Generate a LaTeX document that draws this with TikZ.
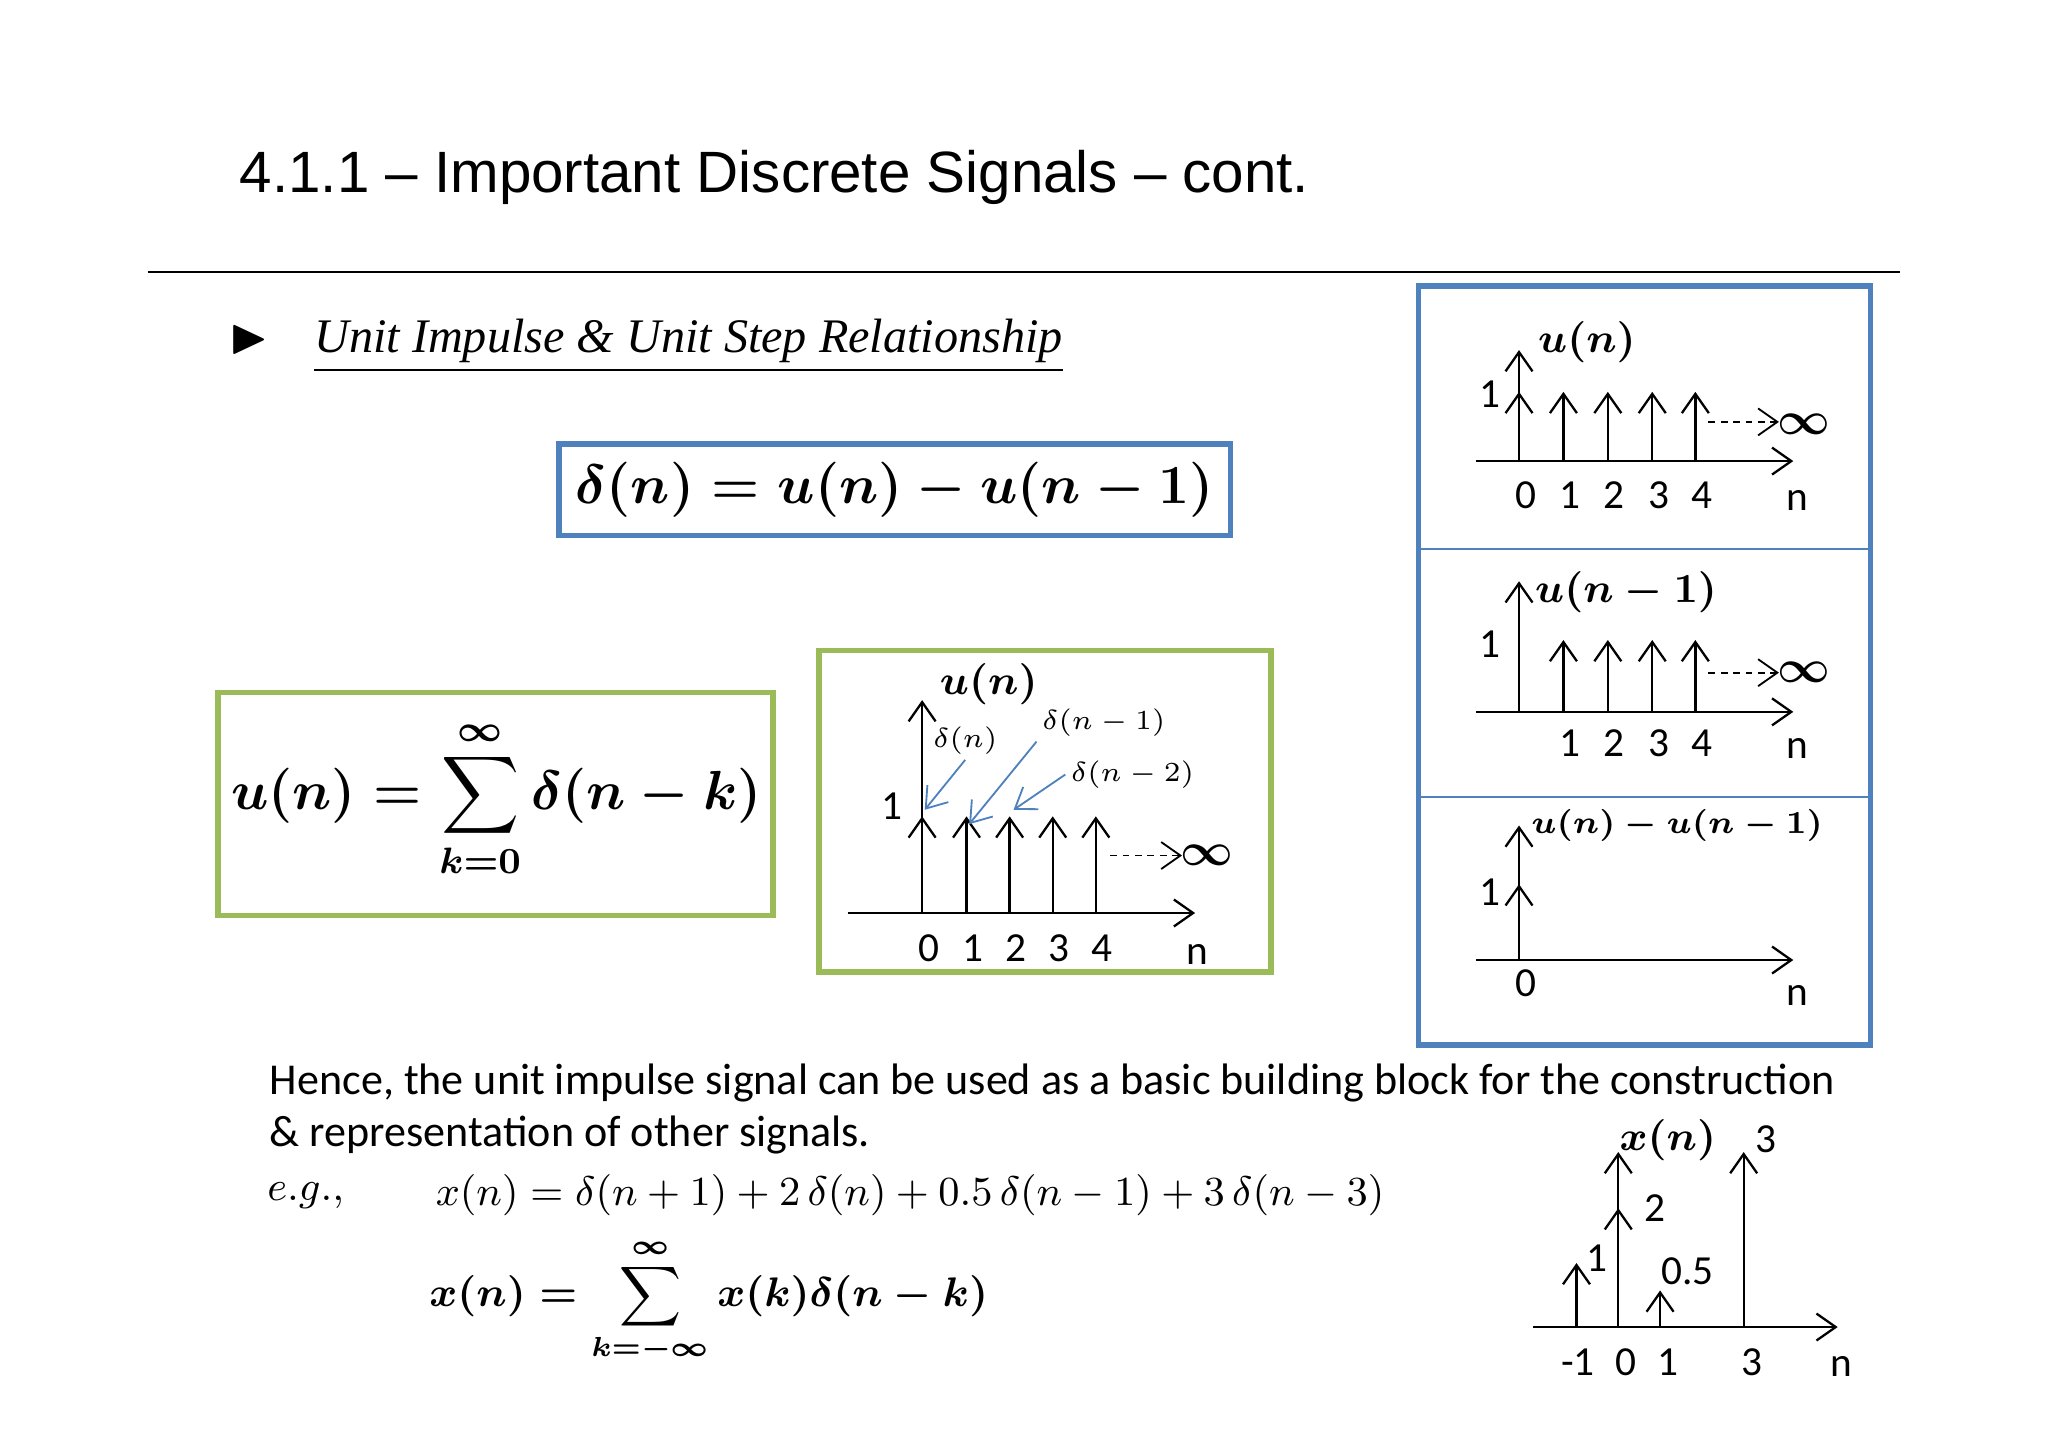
\documentclass[tikz,border=0pt]{standalone}
\usepackage{amsmath}
\usepackage{amssymb}
\usepackage{fontspec}
\setmainfont{Liberation Serif}
\newfontfamily\titlefont{Liberation Sans}
\newfontfamily\bodyfont{Carlito}
\usetikzlibrary{arrows.meta, positioning, calc}
\definecolor{boxblue}{RGB}{79,129,189}
\definecolor{boxgreen}{RGB}{155,187,89}

\begin{document}
\begin{tikzpicture}[x=0.1mm, y=-0.1mm,
		>={Straight Barb[angle=70:1.8mm]},
		stem/.style={draw,->,line width=0.5pt},
		axis/.style={draw,->,line width=0.5pt},
		dots/.style={draw,dash pattern=on 1.5pt off 1.2pt,->,line width=0.4pt},
		lbl/.style={font=\bodyfont\fontsize{9}{10}\selectfont, inner sep=1pt},
		sig/.style={font=\fontsize{9}{10}\selectfont, inner sep=1pt},
		pointer/.style={draw=boxblue,->,line width=0.4pt},
		frame/.style={line width=1.2pt, inner sep=0}
	]
	\useasboundingbox (0,0) rectangle (1568,1109);
	% title
	\node [anchor=base west, inner sep=0, font=\titlefont\fontsize{12.7}{15}\selectfont] (title) at (183,147) {4.1.1 \textendash{} Important Discrete Signals \textendash{} cont.};
	\coordinate (rl) at (113,208);
	\coordinate (rr) at (1455,208);
	\draw [line width=0.5pt] (rl) -- (rr);
	% heading
	\node [anchor=base west, inner sep=0, font=\fontsize{11}{13}\selectfont] (bullet) at (175,270) {$\blacktriangleright$};
	\node [anchor=base west, inner sep=0, font=\itshape\fontsize{10.5}{13}\selectfont] (head) at (240,270) {\underline{Unit Impulse \& Unit Step Relationship}};
	% formula boxes
	\draw [boxblue, frame] (428,340) rectangle (942,410);
	\node [inner sep=0, font=\fontsize{12.4}{14}\selectfont] (rel) at (685,375) {$\boldsymbol{\delta(n) = u(n) - u(n-1)}$};
	\draw [boxgreen, frame] (167,530) rectangle (592,701);
	\node [inner sep=0, font=\fontsize{11.8}{14}\selectfont] (sum) at (380,612) {$\displaystyle\boldsymbol{u(n) = \sum_{k=0}^{\infty} \delta(n-k)}$};
	\draw [boxgreen, frame] (627,498) rectangle (973,744);
	\draw [boxblue, frame] (1086,219) rectangle (1432,800);
	\coordinate (d1l) at (1086,420);
	\coordinate (d1r) at (1432,420);
	\coordinate (d2l) at (1086,610);
	\coordinate (d2r) at (1432,610);
	\draw [boxblue, line width=0.4pt] (d1l) -- (d1r);
	\draw [boxblue, line width=0.4pt] (d2l) -- (d2r);

	% green plot
	\coordinate (ga0) at (649,699);
	\coordinate (ga1) at (915,699);
	\coordinate (gy) at (706,536);
	\draw [axis] (ga0) -- (ga1);
	\draw [axis] (706,699) -- (gy);
	\foreach \x/\t in {706/0,740/1,773/2,806/3,839/4}{
		\coordinate (g\t) at (\x,625);
		\draw [stem] (\x,699) -- (g\t);
		\node [lbl] at (\x+5,726) {\t};
	}
	\node [lbl] at (917,731) {n};
	\node [lbl] at (683,617) {1};
	\node [sig, font=\fontsize{9.5}{11}\selectfont] at (757,524) {$\boldsymbol{u(n)}$};
	\coordinate (gd0) at (850,655);
	\coordinate (gd1) at (905,655);
	\draw [dots] (gd0) -- (gd1);
	\node [sig, font=\fontsize{10}{11}\selectfont] at (924,655) {$\boldsymbol{\infty}$};
	\node [sig, font=\fontsize{6}{7}\selectfont] (dn) at (739,567) {$\delta(n)$};
	\node [sig, font=\fontsize{5.8}{7}\selectfont] (dn1) at (845,553) {$\delta(n-1)$};
	\node [sig, font=\fontsize{5.8}{7}\selectfont] (dn2) at (867,593) {$\delta(n-2)$};
	\coordinate (pn0) at (708,620);
	\coordinate (pn1) at (742,631);
	\coordinate (pn2) at (776,620);
	\draw [pointer] (dn.south) -- (pn0);
	\draw [pointer] (dn1.south west) -- (pn1);
	\draw [pointer] (dn2.west) -- (pn2);

	% right panel 1: u(n)
	\draw [axis] (1130,353) -- (1373,353);
	\draw [axis] (1163,353) -- (1163,268);
	\foreach \x/\t in {1163/0,1197/1,1231/2,1265/3,1298/4}{
		\draw [stem] (\x,353) -- (\x,300);
		\node [lbl] at (\x+5,379) {\t};
	}
	\node [lbl] at (1376,383) {n};
	\node [lbl] at (1141,302) {1};
	\node [sig] at (1215,262) {$\boldsymbol{u(n)}$};
	\draw [dots] (1308,323) -- (1362,323);
	\node [sig, font=\fontsize{10}{11}\selectfont] at (1381,325) {$\boldsymbol{\infty}$};

	% right panel 2: u(n-1)
	\draw [axis] (1130,545) -- (1373,545);
	\draw [axis] (1163,545) -- (1163,445);
	\foreach \x/\t in {1197/1,1231/2,1265/3,1298/4}{
		\draw [stem] (\x,545) -- (\x,490);
		\node [lbl] at (\x+5,569) {\t};
	}
	\node [lbl] at (1376,573) {n};
	\node [lbl] at (1141,493) {1};
	\node [sig] at (1245,453) {$\boldsymbol{u(n-1)}$};
	\draw [dots] (1308,515) -- (1362,515);
	\node [sig, font=\fontsize{10}{11}\selectfont] at (1381,515) {$\boldsymbol{\infty}$};

	% right panel 3: u(n)-u(n-1)
	\draw [axis] (1130,735) -- (1373,735);
	\draw [axis] (1163,735) -- (1163,632);
	\draw [stem] (1163,735) -- (1163,677);
	\node [lbl] at (1141,683) {1};
	\node [lbl] at (1168,753) {0};
	\node [lbl] at (1376,762) {n};
	\node [sig, font=\fontsize{7.2}{8}\selectfont] at (1284,632) {$\boldsymbol{u(n)-u(n-1)}$};

	% text
	\node [anchor=base west, inner sep=0, font=\bodyfont\fontsize{9.6}{11.4}\selectfont, align=left] (hence) at (206,878) {Hence, the unit impulse signal can be used as a basic building block for the construction\\ \& representation of other signals.};
	\node [anchor=west, inner sep=0, font=\fontsize{9.5}{12}\selectfont] (eg) at (204,915) {$e.g.,$};
	\node [anchor=west, inner sep=0, font=\fontsize{9.5}{12}\selectfont] (xsum) at (333,915) {$x(n) = \delta(n+1) + 2\,\delta(n) + 0.5\,\delta(n-1) + 3\,\delta(n-3)$};
	\node [anchor=west, inner sep=0, font=\fontsize{9.1}{12}\selectfont] (xgen) at (328,997) {$\displaystyle\boldsymbol{x(n) = \sum_{k=-\infty}^{\infty} x(k)\delta(n-k)}$};

	% bottom right plot
	\draw [axis] (1174,1016) -- (1407,1016);
	\draw [axis] (1239,1016) -- (1239,882);
	\draw [stem] (1239,1016) -- (1239,925);
	\draw [stem] (1207,1016) -- (1207,967);
	\draw [stem] (1271,1016) -- (1271,988);
	\draw [stem] (1335,1016) -- (1335,882);
	\node [lbl] at (1208,1043) {-1};
	\node [lbl] at (1245,1043) {0};
	\node [lbl] at (1277,1043) {1};
	\node [lbl] at (1341,1043) {3};
	\node [lbl] at (1410,1046) {n};
	\node [lbl] at (1223,963) {1};
	\node [lbl] at (1267,925) {2};
	\node [lbl] at (1292,973) {0.5};
	\node [lbl] at (1352,872) {3};
	\node [sig] at (1277,873) {$\boldsymbol{x(n)}$};
\end{tikzpicture}
\end{document}
